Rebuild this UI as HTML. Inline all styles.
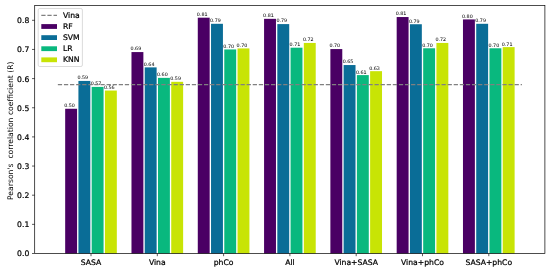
<!DOCTYPE html>
<html><head><meta charset="utf-8"><title>chart</title>
<style>html,body{margin:0;padding:0;background:#fff}svg text{text-rendering:geometricPrecision}</style></head>
<body>
<svg width="550" height="271" viewBox="0 0 550 271" style="display:block;font-family:'DejaVu Sans','Liberation Sans',sans-serif">
<rect width="550" height="271" fill="#fff"/>
<rect x="65.17" y="108.77" width="11.90" height="144.73" fill="#4A0064"/>
<text x="64.22" y="106.57" font-size="4.8" fill="#1a1a1a" stroke="#1a1a1a" stroke-width="0.06">0.50</text>
<rect x="78.42" y="80.93" width="11.90" height="172.57" fill="#0A6D97"/>
<text x="77.47" y="79.33" font-size="4.8" fill="#1a1a1a" stroke="#1a1a1a" stroke-width="0.06">0.59</text>
<rect x="91.67" y="86.91" width="11.90" height="166.59" fill="#09B87E"/>
<text x="90.72" y="85.31" font-size="4.8" fill="#1a1a1a" stroke="#1a1a1a" stroke-width="0.06">0.57</text>
<rect x="104.92" y="90.55" width="11.90" height="162.95" fill="#C8E405"/>
<text x="103.97" y="88.95" font-size="4.8" fill="#1a1a1a" stroke="#1a1a1a" stroke-width="0.06">0.56</text>
<rect x="131.48" y="52.07" width="11.90" height="201.43" fill="#4A0064"/>
<text x="130.53" y="50.47" font-size="4.8" fill="#1a1a1a" stroke="#1a1a1a" stroke-width="0.06">0.69</text>
<rect x="144.73" y="67.38" width="11.90" height="186.12" fill="#0A6D97"/>
<text x="143.78" y="65.78" font-size="4.8" fill="#1a1a1a" stroke="#1a1a1a" stroke-width="0.06">0.64</text>
<rect x="157.98" y="77.87" width="11.90" height="175.63" fill="#09B87E"/>
<text x="157.03" y="76.27" font-size="4.8" fill="#1a1a1a" stroke="#1a1a1a" stroke-width="0.06">0.60</text>
<rect x="171.23" y="81.81" width="11.90" height="171.69" fill="#C8E405"/>
<text x="170.28" y="80.21" font-size="4.8" fill="#1a1a1a" stroke="#1a1a1a" stroke-width="0.06">0.59</text>
<rect x="197.78" y="17.68" width="11.90" height="235.82" fill="#4A0064"/>
<text x="196.82" y="16.08" font-size="4.8" fill="#1a1a1a" stroke="#1a1a1a" stroke-width="0.06">0.81</text>
<rect x="211.03" y="23.80" width="11.90" height="229.70" fill="#0A6D97"/>
<text x="210.07" y="22.20" font-size="4.8" fill="#1a1a1a" stroke="#1a1a1a" stroke-width="0.06">0.79</text>
<rect x="224.28" y="49.45" width="11.90" height="204.05" fill="#09B87E"/>
<text x="223.32" y="47.85" font-size="4.8" fill="#1a1a1a" stroke="#1a1a1a" stroke-width="0.06">0.70</text>
<rect x="237.53" y="48.43" width="11.90" height="205.07" fill="#C8E405"/>
<text x="236.57" y="46.83" font-size="4.8" fill="#1a1a1a" stroke="#1a1a1a" stroke-width="0.06">0.70</text>
<rect x="264.07" y="18.84" width="11.90" height="234.66" fill="#4A0064"/>
<text x="263.12" y="17.24" font-size="4.8" fill="#1a1a1a" stroke="#1a1a1a" stroke-width="0.06">0.81</text>
<rect x="277.32" y="24.09" width="11.90" height="229.41" fill="#0A6D97"/>
<text x="276.38" y="22.49" font-size="4.8" fill="#1a1a1a" stroke="#1a1a1a" stroke-width="0.06">0.79</text>
<rect x="290.57" y="47.70" width="11.90" height="205.80" fill="#09B87E"/>
<text x="289.62" y="46.10" font-size="4.8" fill="#1a1a1a" stroke="#1a1a1a" stroke-width="0.06">0.71</text>
<rect x="303.82" y="42.95" width="11.90" height="210.55" fill="#C8E405"/>
<text x="302.88" y="41.35" font-size="4.8" fill="#1a1a1a" stroke="#1a1a1a" stroke-width="0.06">0.72</text>
<rect x="330.38" y="49.07" width="11.90" height="204.43" fill="#4A0064"/>
<text x="329.43" y="47.47" font-size="4.8" fill="#1a1a1a" stroke="#1a1a1a" stroke-width="0.06">0.70</text>
<rect x="343.62" y="65.05" width="11.90" height="188.45" fill="#0A6D97"/>
<text x="342.68" y="63.45" font-size="4.8" fill="#1a1a1a" stroke="#1a1a1a" stroke-width="0.06">0.65</text>
<rect x="356.88" y="75.10" width="11.90" height="178.40" fill="#09B87E"/>
<text x="355.93" y="73.50" font-size="4.8" fill="#1a1a1a" stroke="#1a1a1a" stroke-width="0.06">0.61</text>
<rect x="370.12" y="71.17" width="11.90" height="182.33" fill="#C8E405"/>
<text x="369.18" y="69.57" font-size="4.8" fill="#1a1a1a" stroke="#1a1a1a" stroke-width="0.06">0.63</text>
<rect x="396.68" y="17.04" width="11.90" height="236.46" fill="#4A0064"/>
<text x="395.73" y="15.44" font-size="4.8" fill="#1a1a1a" stroke="#1a1a1a" stroke-width="0.06">0.81</text>
<rect x="409.93" y="24.24" width="11.90" height="229.26" fill="#0A6D97"/>
<text x="408.98" y="22.64" font-size="4.8" fill="#1a1a1a" stroke="#1a1a1a" stroke-width="0.06">0.79</text>
<rect x="423.18" y="48.28" width="11.90" height="205.22" fill="#09B87E"/>
<text x="422.23" y="46.68" font-size="4.8" fill="#1a1a1a" stroke="#1a1a1a" stroke-width="0.06">0.70</text>
<rect x="436.43" y="42.95" width="11.90" height="210.55" fill="#C8E405"/>
<text x="435.48" y="41.35" font-size="4.8" fill="#1a1a1a" stroke="#1a1a1a" stroke-width="0.06">0.72</text>
<rect x="462.97" y="19.43" width="11.90" height="234.07" fill="#4A0064"/>
<text x="462.02" y="17.83" font-size="4.8" fill="#1a1a1a" stroke="#1a1a1a" stroke-width="0.06">0.80</text>
<rect x="476.22" y="23.80" width="11.90" height="229.70" fill="#0A6D97"/>
<text x="475.27" y="22.20" font-size="4.8" fill="#1a1a1a" stroke="#1a1a1a" stroke-width="0.06">0.79</text>
<rect x="489.47" y="48.28" width="11.90" height="205.22" fill="#09B87E"/>
<text x="488.52" y="46.68" font-size="4.8" fill="#1a1a1a" stroke="#1a1a1a" stroke-width="0.06">0.70</text>
<rect x="502.72" y="47.12" width="11.90" height="206.38" fill="#C8E405"/>
<text x="501.77" y="45.52" font-size="4.8" fill="#1a1a1a" stroke="#1a1a1a" stroke-width="0.06">0.71</text>
<line x1="57.85" x2="521.95" y1="84.58" y2="84.58" stroke="#808080" stroke-width="1.15" stroke-dasharray="4.25 1.84"/>
<rect x="34.7" y="5.35" width="510.2" height="248.15" fill="none" stroke="#000" stroke-width="0.7"/>
<line x1="32.00" x2="34.7" y1="253.50" y2="253.50" stroke="#000" stroke-width="0.65"/>
<text x="29.30" y="256.40" font-size="7.66" text-anchor="end" fill="#000" stroke="#000" stroke-width="0.22">0.0</text>
<line x1="32.00" x2="34.7" y1="224.35" y2="224.35" stroke="#000" stroke-width="0.65"/>
<text x="29.30" y="227.25" font-size="7.66" text-anchor="end" fill="#000" stroke="#000" stroke-width="0.22">0.1</text>
<line x1="32.00" x2="34.7" y1="195.20" y2="195.20" stroke="#000" stroke-width="0.65"/>
<text x="29.30" y="198.10" font-size="7.66" text-anchor="end" fill="#000" stroke="#000" stroke-width="0.22">0.2</text>
<line x1="32.00" x2="34.7" y1="166.05" y2="166.05" stroke="#000" stroke-width="0.65"/>
<text x="29.30" y="168.95" font-size="7.66" text-anchor="end" fill="#000" stroke="#000" stroke-width="0.22">0.3</text>
<line x1="32.00" x2="34.7" y1="136.90" y2="136.90" stroke="#000" stroke-width="0.65"/>
<text x="29.30" y="139.80" font-size="7.66" text-anchor="end" fill="#000" stroke="#000" stroke-width="0.22">0.4</text>
<line x1="32.00" x2="34.7" y1="107.75" y2="107.75" stroke="#000" stroke-width="0.65"/>
<text x="29.30" y="110.65" font-size="7.66" text-anchor="end" fill="#000" stroke="#000" stroke-width="0.22">0.5</text>
<line x1="32.00" x2="34.7" y1="78.60" y2="78.60" stroke="#000" stroke-width="0.65"/>
<text x="29.30" y="81.50" font-size="7.66" text-anchor="end" fill="#000" stroke="#000" stroke-width="0.22">0.6</text>
<line x1="32.00" x2="34.7" y1="49.45" y2="49.45" stroke="#000" stroke-width="0.65"/>
<text x="29.30" y="52.35" font-size="7.66" text-anchor="end" fill="#000" stroke="#000" stroke-width="0.22">0.7</text>
<line x1="32.00" x2="34.7" y1="20.30" y2="20.30" stroke="#000" stroke-width="0.65"/>
<text x="29.30" y="23.20" font-size="7.66" text-anchor="end" fill="#000" stroke="#000" stroke-width="0.22">0.8</text>
<line x1="91.00" x2="91.00" y1="253.5" y2="256.20" stroke="#000" stroke-width="0.65"/>
<text x="91.00" y="264.70" font-size="7.66" text-anchor="middle" fill="#000" stroke="#000" stroke-width="0.22">SASA</text>
<line x1="157.30" x2="157.30" y1="253.5" y2="256.20" stroke="#000" stroke-width="0.65"/>
<text x="157.30" y="264.70" font-size="7.66" text-anchor="middle" fill="#000" stroke="#000" stroke-width="0.22">Vina</text>
<line x1="223.60" x2="223.60" y1="253.5" y2="256.20" stroke="#000" stroke-width="0.65"/>
<text x="223.60" y="264.70" font-size="7.66" text-anchor="middle" fill="#000" stroke="#000" stroke-width="0.22">phCo</text>
<line x1="289.90" x2="289.90" y1="253.5" y2="256.20" stroke="#000" stroke-width="0.65"/>
<text x="289.90" y="264.70" font-size="7.66" text-anchor="middle" fill="#000" stroke="#000" stroke-width="0.22">All</text>
<line x1="356.20" x2="356.20" y1="253.5" y2="256.20" stroke="#000" stroke-width="0.65"/>
<text x="356.20" y="264.70" font-size="7.66" text-anchor="middle" fill="#000" stroke="#000" stroke-width="0.22">Vina+SASA</text>
<line x1="422.50" x2="422.50" y1="253.5" y2="256.20" stroke="#000" stroke-width="0.65"/>
<text x="422.50" y="264.70" font-size="7.66" text-anchor="middle" fill="#000" stroke="#000" stroke-width="0.22">Vina+phCo</text>
<line x1="488.80" x2="488.80" y1="253.5" y2="256.20" stroke="#000" stroke-width="0.65"/>
<text x="488.80" y="264.70" font-size="7.66" text-anchor="middle" fill="#000" stroke="#000" stroke-width="0.22">SASA+phCo</text>
<text transform="translate(13.0 130.73) rotate(-90)" font-size="7.66" text-anchor="middle" fill="#000" xml:space="preserve">Pearson's  correlation coefficient (R)</text>
<rect x="38.2" y="8.5" width="44.2" height="58.0" rx="1.5" fill="#fff" fill-opacity="0.8" stroke="#ccc" stroke-width="0.7"/>
<line x1="41.3" x2="57" y1="15.3" y2="15.3" stroke="#808080" stroke-width="1.15" stroke-dasharray="4.25 1.84"/>
<text x="63" y="17.9" font-size="7.66" fill="#000" stroke="#000" stroke-width="0.22">Vina</text>
<rect x="41.3" y="24.10" width="15.7" height="4.8" fill="#4A0064"/>
<text x="63" y="29.00" font-size="7.66" fill="#000" stroke="#000" stroke-width="0.22">RF</text>
<rect x="41.3" y="35.20" width="15.7" height="4.8" fill="#0A6D97"/>
<text x="63" y="40.10" font-size="7.66" fill="#000" stroke="#000" stroke-width="0.22">SVM</text>
<rect x="41.3" y="46.30" width="15.7" height="4.8" fill="#09B87E"/>
<text x="63" y="51.20" font-size="7.66" fill="#000" stroke="#000" stroke-width="0.22">LR</text>
<rect x="41.3" y="57.40" width="15.7" height="4.8" fill="#C8E405"/>
<text x="63" y="62.30" font-size="7.66" fill="#000" stroke="#000" stroke-width="0.22">KNN</text>
</svg>
</body></html>
